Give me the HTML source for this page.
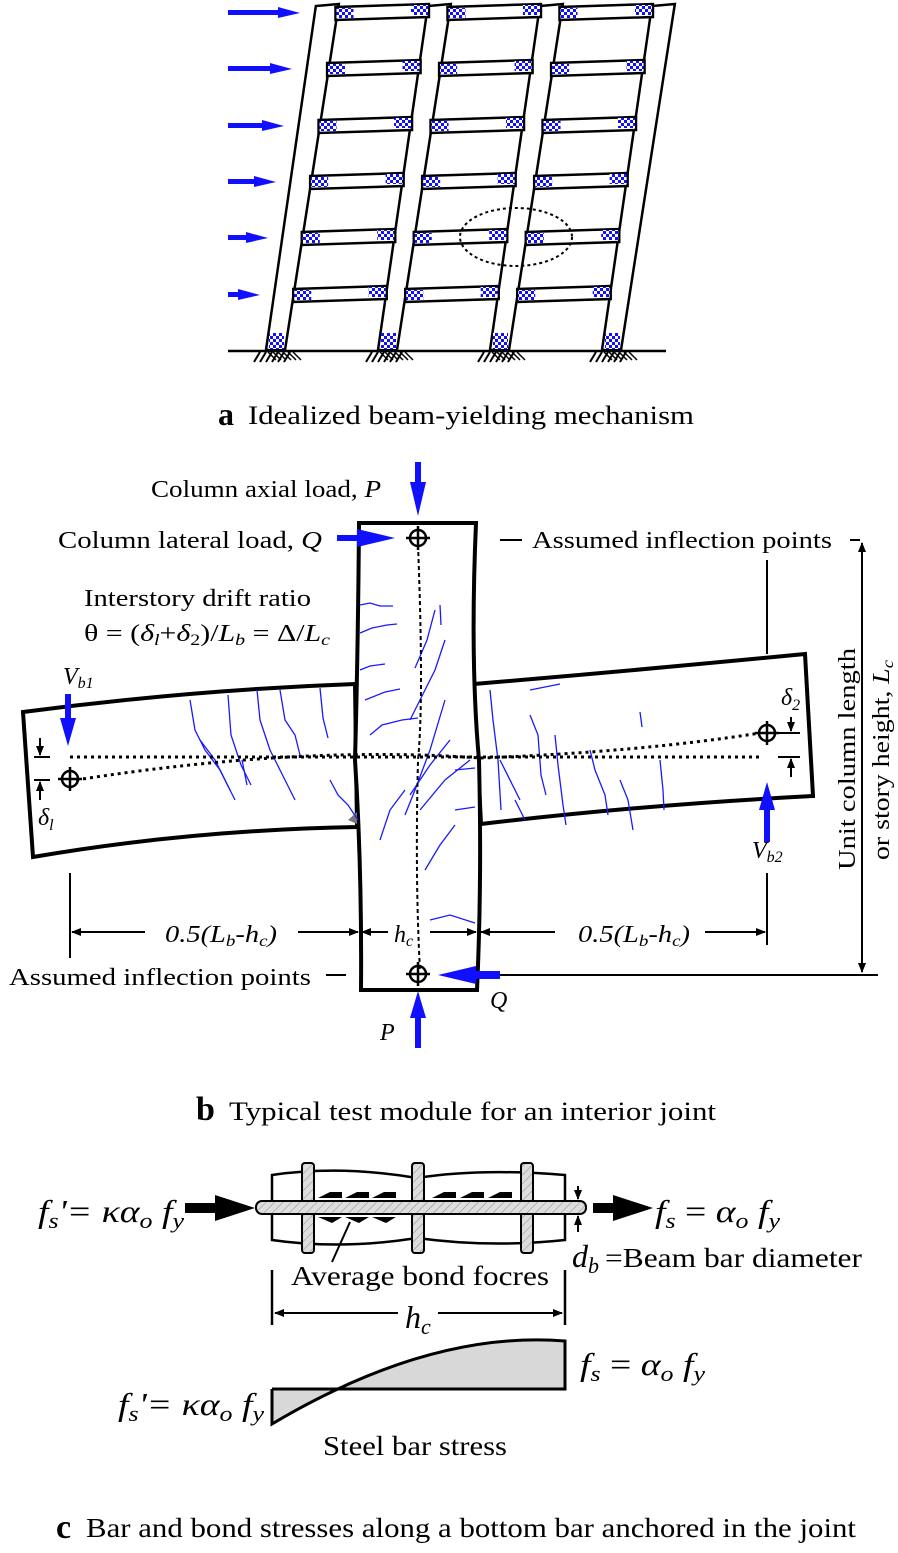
<!DOCTYPE html>
<html><head><meta charset="utf-8"><style>
html,body{margin:0;padding:0;background:#fff}
svg{display:block}
text{font-family:"Liberation Serif",serif;fill:#000}
</style></head><body>
<svg id="s" width="898" height="1553" viewBox="0 0 898 1553" xmlns="http://www.w3.org/2000/svg">
<defs>
<pattern id="ck" width="6" height="6" patternUnits="userSpaceOnUse">
<rect width="6" height="6" fill="#fff"/><rect width="3" height="3" fill="#1010ff"/><rect x="3" y="3" width="3" height="3" fill="#1010ff"/>
</pattern>
<pattern id="hat" width="6" height="6" patternUnits="userSpaceOnUse" patternTransform="rotate(45)">
<rect width="6" height="6" fill="#ddd"/><line x1="0" y1="0" x2="0" y2="6" stroke="#888" stroke-width="1"/>
</pattern>
<marker id="ah" markerWidth="10" markerHeight="8" refX="9" refY="4" orient="auto" markerUnits="userSpaceOnUse"><path d="M0,0L10,4L0,8z" fill="#000"/></marker>
</defs>
<g id="frame"></g>
<line x1="228" y1="351" x2="666" y2="351" stroke="#000" stroke-width="2.5"/>
<ellipse cx="516" cy="237" rx="56" ry="29" fill="none" stroke="#000" stroke-width="2" stroke-dasharray="3,3"/>
<text x="218" y="425" font-size="32" font-weight="bold">a</text>
<text x="248" y="424" font-size="26" textLength="446" lengthAdjust="spacingAndGlyphs">Idealized beam-yielding mechanism</text>

<!-- part b -->
<g stroke="#000" stroke-width="4" fill="#fff" stroke-linejoin="miter">
<path d="M23,712 Q190,690 355,684 L357,827 Q190,830 33,857 Z"/>
<path d="M474,684 Q640,670 805,654 L813,796 Q640,805 481,824 Z"/>
<path d="M359,523 L476,523 Q470,660 479,760 Q482,880 477,990 L361,990 Q362,870 355,760 Q358,650 359,523 Z"/>
</g>
<path d="M348,820 L357,812 L357,824 Z" fill="#777"/>
<g stroke="#1a1aff" stroke-width="1.3" fill="none">
<path d="M360,605 l10,-2 l10,3 l13,0"/><path d="M360,633 l12,-5 l15,-3 l10,-1"/><path d="M360,670 l10,-4 l15,-2"/>
<path d="M365,700 l20,-8 l15,-3"/><path d="M370,735 l12,-10 l20,-5 l16,-2"/><path d="M440,605 l1,20"/>
<path d="M445,640 l-10,30 l-15,30 l-10,20"/><path d="M435,610 l-8,30 l-12,28"/><path d="M445,700 l-15,50 l-15,40 l-10,25"/>
<path d="M410,795 l20,-30 l20,-25"/><path d="M420,810 l25,-30 l25,-20"/><path d="M380,840 l10,-30 l15,-20"/>
<path d="M425,870 l15,-25 l15,-20"/><path d="M430,920 l20,-5 l25,8"/><path d="M455,770 l20,-2"/><path d="M455,810 l20,-3"/>
<path d="M190,700 l5,30 l10,20 l15,20 l10,20"/><path d="M228,695 l3,40 l10,30 l10,20"/><path d="M257,690 l3,30 l10,30 l15,30 l10,20"/>
<path d="M280,690 l5,30 l10,15 l5,20"/><path d="M320,688 l3,30 l5,20"/><path d="M200,740 l15,20 l10,20 l10,20"/>
<path d="M330,780 l8,15 l10,10 l10,15"/><path d="M242,760 l5,25"/>
<path d="M490,690 l3,30 l5,40 l3,50"/><path d="M530,715 l8,20 l3,40 l5,20"/><path d="M555,735 l3,30 l5,40 l3,20"/>
<path d="M590,750 l5,20 l10,25 l3,20"/><path d="M620,780 l8,20 l5,30"/><path d="M640,712 l2,15"/><path d="M660,760 l3,30 l1,20"/>
<path d="M530,690 l15,-3 l15,-3"/><path d="M500,760 l20,40"/><path d="M515,800 l10,20"/>
</g>
<g fill="none" stroke="#000" stroke-width="3" stroke-dasharray="3,4">
<line x1="70" y1="757" x2="762" y2="757"/>
<path d="M76,780 Q300,745 480,758 Q640,752 760,733"/>
</g>
<path d="M418,545 Q424,700 418,760 Q415,880 420,970" fill="none" stroke="#000" stroke-width="2" stroke-dasharray="4,3"/>
<g fill="none" stroke="#000" stroke-width="2.5">
<circle cx="418" cy="538" r="8"/><line x1="406" y1="538" x2="430" y2="538"/><line x1="418" y1="526" x2="418" y2="550"/>
<circle cx="418" cy="974" r="8"/><line x1="406" y1="974" x2="430" y2="974"/><line x1="418" y1="962" x2="418" y2="986"/>
<circle cx="70" cy="779" r="8"/><line x1="58" y1="779" x2="82" y2="779"/><line x1="70" y1="767" x2="70" y2="791"/>
<circle cx="767" cy="733" r="8"/><line x1="755" y1="733" x2="779" y2="733"/><line x1="767" y1="721" x2="767" y2="745"/>
</g>
<g fill="#1010ff">
<path d="M415,462 h6 v20 h5 l-8,34 l-8,-34 h5z"/>
<path d="M337,535 h20 v-6 l38,9 l-38,9 v-6 h-20z"/>
<path d="M65,694 h6 v24 h5 l-8,28 l-8,-28 h5z"/>
<path d="M764,842 h6 v-32 h5 l-8,-28 l-8,28 h5z"/>
<path d="M500,971 h-24 v-5 l-38,9 l38,9 v-5 h24z"/>
<path d="M415,1048 h6 v-30 h5 l-8,-27 l-8,27 h5z"/>
</g>
<g stroke="#000" stroke-width="2" fill="none">
<line x1="34" y1="757" x2="50" y2="757"/><line x1="34" y1="780" x2="50" y2="780"/>
<line x1="40" y1="738" x2="40" y2="755" marker-end="url(#ah)"/><line x1="40" y1="800" x2="40" y2="782" marker-end="url(#ah)"/>
<line x1="778" y1="733" x2="800" y2="733"/><line x1="778" y1="757" x2="800" y2="757"/>
<line x1="791" y1="717" x2="791" y2="731" marker-end="url(#ah)"/><line x1="791" y1="777" x2="791" y2="759" marker-end="url(#ah)"/>
<line x1="70" y1="873" x2="70" y2="958"/><line x1="767" y1="873" x2="767" y2="945"/>
<line x1="145" y1="932" x2="72" y2="932" marker-end="url(#ah)"/><line x1="298" y1="932" x2="358" y2="932" marker-end="url(#ah)"/>
<line x1="388" y1="932" x2="362" y2="932" marker-end="url(#ah)"/><line x1="430" y1="932" x2="476" y2="932" marker-end="url(#ah)"/>
<line x1="555" y1="932" x2="481" y2="932" marker-end="url(#ah)"/><line x1="705" y1="932" x2="765" y2="932" marker-end="url(#ah)"/>
<line x1="767" y1="560" x2="767" y2="654"/>
<line x1="500" y1="540" x2="522" y2="540"/><line x1="850" y1="540" x2="860" y2="540"/>
<line x1="326" y1="975" x2="346" y2="975"/><line x1="500" y1="975" x2="878" y2="975"/>
<line x1="862" y1="970" x2="862" y2="543" marker-end="url(#ah)"/><line x1="862" y1="545" x2="862" y2="972" marker-end="url(#ah)"/>
</g>
<text x="151" y="497" font-size="24" textLength="230" lengthAdjust="spacingAndGlyphs">Column axial  load, <tspan font-style="italic">P</tspan></text>
<text x="58" y="548" font-size="24" textLength="264" lengthAdjust="spacingAndGlyphs">Column lateral load, <tspan font-style="italic">Q</tspan></text>
<text x="532" y="548" font-size="24" textLength="300" lengthAdjust="spacingAndGlyphs">Assumed inflection points</text>
<text x="84" y="606" font-size="24" textLength="227" lengthAdjust="spacingAndGlyphs">Interstory drift ratio</text>
<text x="84" y="641" font-size="24" textLength="246" lengthAdjust="spacingAndGlyphs">θ = (<tspan font-style="italic">δ<tspan font-size="16" dy="4">l</tspan></tspan><tspan dy="-4">+</tspan><tspan font-style="italic">δ</tspan><tspan font-size="16" dy="4">2</tspan><tspan dy="-4">)/</tspan><tspan font-style="italic">L</tspan><tspan font-size="16" font-style="italic" dy="4">b</tspan><tspan dy="-4"> = Δ/</tspan><tspan font-style="italic">L</tspan><tspan font-size="16" font-style="italic" dy="4">c</tspan></text>
<text x="63" y="684" font-size="24" font-style="italic">V<tspan font-size="16" dy="4">b1</tspan></text>
<text x="38" y="825" font-size="24" font-style="italic">δ<tspan font-size="16" dy="5">l</tspan></text>
<text x="781" y="705" font-size="24" font-style="italic">δ<tspan font-size="16" dy="5">2</tspan></text>
<text x="752" y="858" font-size="24" font-style="italic">V<tspan font-size="16" dy="4">b2</tspan></text>
<text x="165" y="942" font-size="24" font-style="italic" textLength="112" lengthAdjust="spacingAndGlyphs">0.5(L<tspan font-size="16" dy="4">b</tspan><tspan dy="-4">-h</tspan><tspan font-size="16" dy="4">c</tspan><tspan dy="-4">)</tspan></text>
<text x="394" y="942" font-size="24" font-style="italic">h<tspan font-size="16" dy="4">c</tspan></text>
<text x="578" y="942" font-size="24" font-style="italic" textLength="112" lengthAdjust="spacingAndGlyphs">0.5(L<tspan font-size="16" dy="4">b</tspan><tspan dy="-4">-h</tspan><tspan font-size="16" dy="4">c</tspan><tspan dy="-4">)</tspan></text>
<text x="9" y="985" font-size="24" textLength="302" lengthAdjust="spacingAndGlyphs">Assumed inflection points</text>
<text x="490" y="1008" font-size="24" font-style="italic">Q</text>
<text x="380" y="1040" font-size="24" font-style="italic">P</text>
<text transform="translate(855,870) rotate(-90)" font-size="24" textLength="222" lengthAdjust="spacingAndGlyphs">Unit column length</text>
<text transform="translate(889,860) rotate(-90)" font-size="24" textLength="200" lengthAdjust="spacingAndGlyphs">or story height, <tspan font-style="italic">L<tspan font-size="16" dy="4">c</tspan></tspan></text>
<text x="196" y="1120" font-size="34" font-weight="bold">b</text>
<text x="229" y="1120" font-size="26" textLength="487" lengthAdjust="spacingAndGlyphs">Typical test module for an interior joint</text>

<!-- part c -->
<g fill="#fff" stroke="#000" stroke-width="2.5">
<path d="M272,1175 Q340,1165 417,1178 Q480,1168 565,1175 L565,1240 Q490,1248 417,1238 Q340,1250 272,1240 Z"/>
</g>
<g stroke="#000" stroke-width="2" fill="url(#hat)">
<rect x="302" y="1163" width="12" height="90" rx="3"/>
<rect x="412" y="1163" width="12" height="90" rx="3"/>
<rect x="521" y="1163" width="12" height="90" rx="3"/>
<rect x="256" y="1201" width="330" height="13" rx="6"/>
</g>
<g fill="#000">
<path d="M318,1198 l12,-6 h12 v6z M345,1198 l12,-6 h12 v6z M372,1198 l12,-6 h12 v6z M432,1198 l12,-6 h12 v6z M460,1198 l12,-6 h12 v6z M488,1198 l12,-6 h12 v6z"/>
<path d="M318,1217 h24 l-10,6z M345,1217 h24 l-10,6z M372,1217 h24 l-10,6z"/>
<path d="M185,1203 h30 v-8 l40,13 l-40,13 v-8 h-30z"/>
<path d="M593,1203 h20 v-8 l40,13 l-40,13 v-8 h-20z"/>
</g>
<g stroke="#000" stroke-width="2" fill="none">
<line x1="350" y1="1222" x2="332" y2="1262"/>
<line x1="578" y1="1186" x2="578" y2="1199" marker-end="url(#ah)"/><line x1="578" y1="1232" x2="578" y2="1216" marker-end="url(#ah)"/>
<line x1="272" y1="1270" x2="272" y2="1325" stroke-width="2.5"/><line x1="565" y1="1270" x2="565" y2="1325" stroke-width="2.5"/>
<line x1="398" y1="1313" x2="275" y2="1313" marker-end="url(#ah)"/><line x1="438" y1="1313" x2="562" y2="1313" marker-end="url(#ah)"/>
</g>
<path d="M272,1389 L272,1424 Q430,1330 565,1341 L565,1389 Z" fill="#d8d8d8" stroke="none"/>
<path d="M272,1389 L565,1389 L565,1341 Q430,1330 272,1424 L272,1389" fill="none" stroke="#000" stroke-width="3"/>
<text x="38" y="1222" font-size="32" font-style="italic" textLength="146" lengthAdjust="spacingAndGlyphs">f<tspan font-size="22" dy="6">s</tspan><tspan dy="-6">'= κα</tspan><tspan font-size="22" dy="6">o</tspan><tspan dy="-6"> f</tspan><tspan font-size="22" dy="6">y</tspan></text>
<text x="655" y="1222" font-size="32" font-style="italic" textLength="125" lengthAdjust="spacingAndGlyphs">f<tspan font-size="22" dy="6">s</tspan><tspan dy="-6" font-style="normal"> = </tspan><tspan>α</tspan><tspan font-size="22" dy="6">o</tspan><tspan dy="-6"> f</tspan><tspan font-size="22" dy="6">y</tspan></text>
<text x="572" y="1267" font-size="32"><tspan font-style="italic">d</tspan><tspan font-size="22" font-style="italic" dy="6">b</tspan></text>
<text x="605" y="1267" font-size="27" textLength="257" lengthAdjust="spacingAndGlyphs">=Beam bar diameter</text>
<text x="291" y="1285" font-size="27" textLength="258" lengthAdjust="spacingAndGlyphs">Average bond focres</text>
<text x="405" y="1328" font-size="32" font-style="italic">h<tspan font-size="22" dy="6">c</tspan></text>
<text x="580" y="1375" font-size="32" font-style="italic" textLength="125" lengthAdjust="spacingAndGlyphs">f<tspan font-size="22" dy="6">s</tspan><tspan dy="-6" font-style="normal"> = </tspan>α<tspan font-size="22" dy="6">o</tspan><tspan dy="-6"> f</tspan><tspan font-size="22" dy="6">y</tspan></text>
<text x="118" y="1415" font-size="32" font-style="italic" textLength="146" lengthAdjust="spacingAndGlyphs">f<tspan font-size="22" dy="6">s</tspan><tspan dy="-6">'= κα</tspan><tspan font-size="22" dy="6">o</tspan><tspan dy="-6"> f</tspan><tspan font-size="22" dy="6">y</tspan></text>
<text x="323" y="1455" font-size="27" textLength="184" lengthAdjust="spacingAndGlyphs">Steel bar stress</text>
<text x="56" y="1538" font-size="34" font-weight="bold">c</text>
<text x="86" y="1537" font-size="27" textLength="770" lengthAdjust="spacingAndGlyphs">Bar and bond stresses along a bottom bar anchored in the joint</text>
</svg>
<script>
(function(){
var g=document.getElementById('frame'),h='';
function xl(i,y){return 266+52*(350-y)/347+112*i;}
var W=19;
for(var i=0;i<4;i++){
 h+='<polygon points="'+xl(i,350)+',350 '+(xl(i,350)+W)+',350 '+(xl(i,4)+W+2)+',4 '+(xl(i,4)-2)+',6" fill="#fff" stroke="#000" stroke-width="2.5"/>';
 h+='<rect x="'+(xl(i,350)+3)+'" y="333" width="15" height="16" fill="url(#ck)"/>';
}
var ys=[13,69,126,182,238,295];
for(var k=0;k<6;k++){var y=ys[k];
 for(var i=0;i<3;i++){
  var a=xl(i,y)+W,b=xl(i+1,y-3);
  h+='<polygon points="'+a+','+(y-6)+' '+b+','+(y-9)+' '+b+','+(y+4)+' '+a+','+(y+7)+'" fill="#fff" stroke="#000" stroke-width="2.5"/>';
  h+='<rect x="'+(a+1)+'" y="'+(y-5)+'" width="17" height="10" fill="url(#ck)"/>';
  h+='<rect x="'+(b-18)+'" y="'+(y-8)+'" width="17" height="10" fill="url(#ck)"/>';
 }
 var ex=[300,292,284,276,268,260][k];
 h+='<path d="M228,'+(y-3)+' H'+(ex-22)+' V'+(y-6)+' L'+ex+','+(y)+' L'+(ex-22)+','+(y+5)+' V'+(y+2)+' H228z" fill="#1010ff"/>';
}
for(var i=0;i<4;i++){var x=xl(i,350);
 for(var j=0;j<6;j++){h+='<line x1="'+(x-6+j*6)+'" y1="352" x2="'+(x-12+j*6)+'" y2="362" stroke="#000" stroke-width="2"/>';
  h+='<line x1="'+(x+2+j*5)+'" y1="352" x2="'+(x+10+j*5)+'" y2="360" stroke="#000" stroke-width="1.5"/>';}
}
g.innerHTML=h;
})();
</script>
</body></html>
